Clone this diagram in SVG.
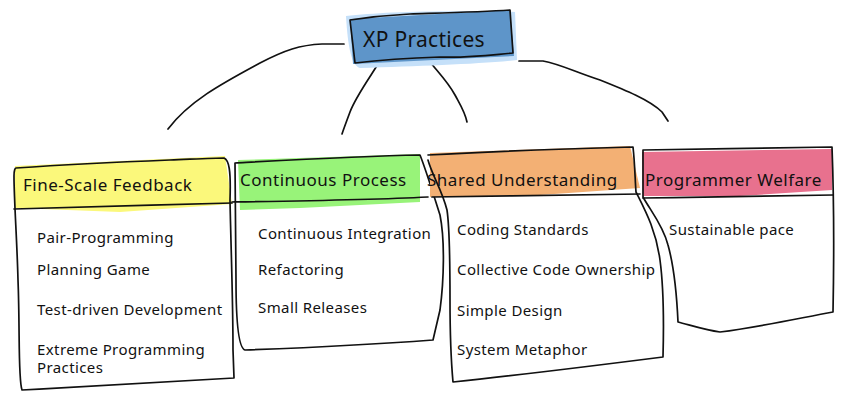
<svg xmlns="http://www.w3.org/2000/svg" width="842" height="409" viewBox="0 0 842 409">
<style>
  .ink { fill: none; stroke: #111; stroke-width: 1.7; stroke-linecap: round; stroke-linejoin: round; }
  .t { font-family: "Comic Sans MS", "Noto Sans", "DejaVu Sans", sans-serif; fill: #111; }
  .h { font-size: 17px; letter-spacing: 0.5px; }
  .i { font-size: 15px; letter-spacing: 0.4px; }
</style>
<rect width="842" height="409" fill="#fff"/>
<g id="connectors">
  <path class="ink" d="M344,44 L322,44 C300,45 285,50 260,63 C225,82 190,100 168,129"/>
  <path class="ink" d="M380,61 C368,80 355,98 350,112 C347,120 344,128 342,134"/>
  <path class="ink" d="M430,62 C438,72 448,82 455,95 C461,106 465,112 467,122"/>
  <path class="ink" d="M519,61 L543,61 C560,64 575,72 600,80 C625,90 650,100 662,112 L668,121"/>
</g>
<g id="xp">
  <path d="M346,16 C380,12 440,10 515,12 L517,60 C480,64 420,66 360,68 C352,66 348,50 346,16 Z" fill="#c5e0f9"/>
  <path d="M350,19 L510,10 L514,56 L353,64 Z" fill="#5e95c9"/>
  <path class="ink" d="M350,20 C370,17 390,15 410,14 C440,13 480,12 510,10 L513,53 C490,55 470,58 440,57 C410,58 380,60 355,63 L350,20"/>
  <text class="t" x="424" y="47" font-size="21" letter-spacing="0.3" text-anchor="middle" fill="#1a2a44">XP Practices</text>
</g>
<g id="fine-scale-feedback">
  <path d="M15,166 L225,156 L232,204 L120,212 L15,208 Z" fill="#fbf87b"/>
  <path class="ink" d="M16,168 C60,165 120,162 170,160 C195,159 215,158 224,158 C229,160 231,170 230,200 C231,250 233,300 233,350 L234,378 C180,381 100,386 22,390 C18,380 20,330 18,280 C17,240 14,200 14,176 C14,171 15,168 16,168"/>
  <path class="ink" d="M14,209 C80,207 160,205 232,203"/>
  <text class="t h" x="23" y="191">Fine-Scale Feedback</text>
  <text class="t i" x="37" y="243">Pair-Programming</text>
  <text class="t i" x="37" y="275">Planning Game</text>
  <text class="t i" x="37" y="315">Test-driven Development</text>
  <text class="t i" x="37" y="355">Extreme Programming</text>
  <text class="t i" x="37" y="373">Practices</text>
</g>
<g id="continuous-process">
  <path d="M238,160 L420,154 L420,202 L300,208 L240,210 Z" fill="#98f379"/>
  <path class="ink" d="M235,163 C290,160 360,156 420,155 C426,170 432,190 440,215 C445,240 444,280 440,310 L433,340 C380,344 300,348 245,350 C238,348 236,320 236,280 C236,240 235,200 235,163"/>
  <path class="ink" d="M232,202 C300,201 370,200 428,197"/>
  <text class="t h" x="240" y="186">Continuous Process</text>
  <text class="t i" x="258" y="239">Continuous Integration</text>
  <text class="t i" x="258" y="275">Refactoring</text>
  <text class="t i" x="258" y="313">Small Releases</text>
</g>
<g id="shared-understanding">
  <path d="M430,153 L630,146 L640,188 L540,195 L430,197 Z" fill="#f3b074"/>
  <path class="ink" d="M428,155 C480,152 560,149 633,147 C635,165 635,180 636,192 C645,210 656,230 660,260 C664,290 664,320 663,357 C600,365 520,375 453,382 C451,360 450,330 450,300 C450,260 450,230 447,210 C442,190 432,175 428,160"/>
  <path class="ink" d="M432,197 C500,196 580,195 640,194"/>
  <text class="t h" x="427" y="186">Shared Understanding</text>
  <text class="t i" x="457" y="235">Coding Standards</text>
  <text class="t i" x="457" y="275">Collective Code Ownership</text>
  <text class="t i" x="457" y="316">Simple Design</text>
  <text class="t i" x="457" y="355">System Metaphor</text>
</g>
<g id="programmer-welfare">
  <path d="M642,152 L832,149 L832,190 L740,196 L643,196 Z" fill="#e8718e"/>
  <path class="ink" d="M643,150 C700,149 780,148 832,147 C834,200 834,260 833,312 C800,318 760,327 720,332 C705,330 690,325 678,322 C677,300 675,270 668,245 C663,225 650,210 643,197 L643,150"/>
  <path class="ink" d="M643,198 C710,197 780,196 833,195"/>
  <text class="t h" x="645" y="186">Programmer Welfare</text>
  <text class="t i" x="669" y="235">Sustainable pace</text>
</g>
</svg>
